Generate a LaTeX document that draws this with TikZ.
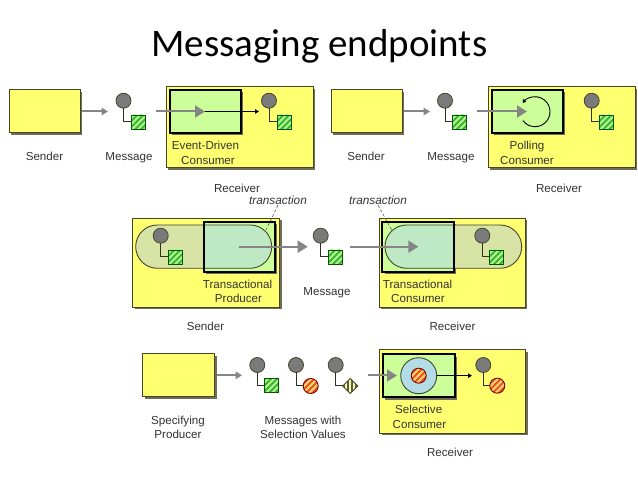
\documentclass[tikz,border=0pt]{standalone}
\usepackage{fontspec}
\setmainfont{Liberation Sans}
\newfontfamily\titlefont{Carlito}
\usetikzlibrary{arrows.meta,shapes.geometric,shadows,calc}
\definecolor{ybox}{HTML}{FFFF70}
\definecolor{gbox}{HTML}{CCFF99}
\definecolor{capY}{HTML}{D8E3A6}
\definecolor{capG}{HTML}{BFE8C4}
\definecolor{edge}{HTML}{45452C}
\definecolor{sh}{HTML}{6E6E5A}
\definecolor{txt}{HTML}{333333}
\definecolor{pipe}{HTML}{858585}
\definecolor{gball}{HTML}{7A7A7A}
\definecolor{sgreen}{HTML}{2FB52F}
\definecolor{slight}{HTML}{B4F08C}
\definecolor{sred}{HTML}{E5501E}
\definecolor{sorng}{HTML}{FFD070}
\definecolor{sblue}{HTML}{B2DCE6}
\tikzset{
  every node/.style={inner sep=0pt,outer sep=0pt},
  lbl/.style={font=\fontsize{11.6}{14}\selectfont,text=txt,anchor=base,yshift=-.8pt},
  ttl/.style={font=\titlefont\fontsize{39}{44}\selectfont,text=black,anchor=base},
  tr/.style={font=\itshape\fontsize{11.8}{13}\selectfont,text=txt,anchor=base},
  yb/.style={rectangle,draw=edge,line width=1pt,fill=ybox,
     general shadow={fill=sh,shadow xshift=2.2pt,shadow yshift=-2.2pt}},
  gb/.style={rectangle,draw=black,line width=1.8pt,
     general shadow={fill=sh,shadow xshift=2.4pt,shadow yshift=-2.4pt},fill=gbox},
  frameb/.style={rectangle,draw=black,line width=1.8pt},
  ball/.style={circle,draw=edge,line width=.8pt,fill=gball,minimum size=15pt},
  sqm/.style={rectangle,draw=black!65!green,line width=.9pt,minimum size=14pt,fill=sgreen,
    path picture={\foreach \i in {-16,-10,...,20}{\fill[slight]
      ($(path picture bounding box.center)+(\i pt,8pt)$) -- ++(3pt,0) -- ++(-16pt,-16pt) -- ++(-3pt,0) -- cycle;}}},
  rnd/.style={circle,draw=red!50!black,line width=.9pt,minimum size=15pt,fill=sred,
    path picture={\foreach \i in {-16,-10,...,20}{\fill[sorng]
      ($(path picture bounding box.center)+(\i pt,-8pt)$) -- ++(3pt,0) -- ++(16pt,16pt) -- ++(-3pt,0) -- cycle;}}},
  dia/.style={diamond,draw=edge,line width=.9pt,minimum size=15pt,fill=ybox!75!white,aspect=1,
    path picture={\foreach \i in {-6,-2,2,6}{\fill[black!65]
      ($(path picture bounding box.center)+(\i pt-.9pt,-8pt)$) rectangle ++(1.8pt,16pt);}}},
  link/.style={draw=edge!70!black,line width=1pt},
  pipeS/.style={draw=pipe,line width=2pt,-{Triangle[length=6.5pt,width=7.5pt]}},
  pipeL/.style={draw=pipe,line width=2pt,-{Triangle[length=10pt,width=12pt]}},
  blk/.style={draw=black,line width=.9pt,-{Triangle[length=4pt,width=4.5pt]}},
  lead/.style={draw=black!65,line width=.6pt,densely dashed},
}
% box: name, x1, y1, x2, y2, style
\newcommand{\bx}[6]{\pgfmathsetmacro{\wdt}{#4-#2}\pgfmathsetmacro{\hgt}{#5-#3}%
  \node[#6,minimum width=\wdt pt,minimum height=\hgt pt] (#1) at ({(#2+#4)/2},{(#3+#5)/2}) {};}
% message: name, ball x, ball y, payload x, payload y, payload style
\newcommand{\msgb}[6]{\node[ball] (#1c) at (#2,#3) {};
  \draw[link] (#1c.south) |- (#4,#5);
  \node[#6] (#1p) at (#4,#5) {};}
\begin{document}
\begin{tikzpicture}[x=1pt,y=-1pt]
\useasboundingbox (0,0) rectangle (638,478);
\fill[white] (0,0) rectangle (638,478);
\node[ttl] (title) at (319.5,57) {Messaging endpoints};

% Row 1 left
\bx{s1}{9}{90}{80}{133}{yb}
\msgb{m1}{123.5}{100.7}{138}{122}{sqm}
\bx{r1}{166}{87}{313}{168}{yb}
\bx{g1}{170}{90}{241}{133}{gb}
\msgb{m2}{269}{100.7}{284}{122}{sqm}
\coordinate (a1s) at (82,111.5); \coordinate (a1e) at (108,111.5);
\draw[pipeS] (a1s) -- (a1e);
\coordinate (a2s) at (156,111.5); \coordinate (a2e) at (205,111.5); \coordinate (a2b) at (259,111.5);
\draw[pipeL] (a2s) -- (a2e);
\draw[blk] (a2e) -- (a2b);
\node[lbl] (n1) at (44.5,160) {Sender};
\node[lbl] (n2) at (129,160) {Message};
\node[lbl] (n3) at (205.5,149) {Event-Driven};
\node[lbl] (n4) at (208,164) {Consumer};
\node[lbl] (n5) at (237,192) {Receiver};

% Row 1 right
\bx{s2}{331}{90}{402}{133}{yb}
\msgb{m3}{445}{100.7}{459.5}{122}{sqm}
\bx{r2}{488}{87}{635}{168}{yb}
\bx{g2}{492}{90}{563}{133}{gb}
\msgb{m4}{591.7}{100.7}{606}{122}{sqm}
\coordinate (a3s) at (404,111.5); \coordinate (a3e) at (430,111.5);
\draw[pipeS] (a3s) -- (a3e);
\coordinate (loop) at (535,111.7);
\draw[black,line width=.9pt,-{Triangle[length=3.5pt,width=4pt]}] (loop) ++(216:15pt) arc[start angle=216,end angle=505,radius=15pt];
\coordinate (a4s) at (477,111.5); \coordinate (a4e) at (527,111.5);
\draw[pipeL] (a4s) -- (a4e);
\node[lbl] (n6) at (366,160) {Sender};
\node[lbl] (n7) at (451,160) {Message};
\node[lbl] (n8) at (527,149) {Polling};
\node[lbl] (n9) at (527,164) {Consumer};
\node[lbl] (n10) at (559,192) {Receiver};

% Row 2 left
\bx{r3}{132.3}{218.3}{279.3}{307.3}{yb}
\bx{g3}{203.7}{221.7}{275}{271.7}{gb}
\path[fill=capY,rounded corners=21.6pt] (135.7,225) rectangle (271.7,268.3);
\begin{scope}
  \clip (203.7,221.7) rectangle (275,271.7);
  \path[fill=capG,rounded corners=21.6pt] (135.7,225) rectangle (271.7,268.3);
\end{scope}
\draw[edge,line width=.9pt,rounded corners=21.6pt] (135.7,225) rectangle (271.7,268.3);
\bx{f3}{203.7}{221.7}{275}{271.7}{frameb}
\msgb{m5}{160.7}{235.7}{175}{257}{sqm}
\coordinate (a5s) at (239.3,246.7); \coordinate (a5e) at (307.7,246.7);
\draw[pipeL] (a5s) -- (a5e);
\node[tr] (t1) at (278,205) {transaction};
\coordinate (t1e) at (266,230);
\draw[lead] (t1.south) -- (t1e);
\node[lbl] (n11) at (237.5,287.7) {Transactional};
\node[lbl] (n12) at (238.5,301.7) {Producer};
\node[lbl] (n13) at (205.5,330) {Sender};

% Row 2 centre message
\msgb{m6}{320.7}{235.7}{335.7}{257}{sqm}
\node[lbl] (n14) at (327,294.5) {Message};

% Row 2 right
\bx{r4}{379}{218.3}{525}{307.3}{yb}
\bx{g4}{382.3}{221.7}{454}{271.7}{gb}
\path[fill=capY,rounded corners=21.6pt] (385,225) rectangle (521.7,268.3);
\begin{scope}
  \clip (382.3,221.7) rectangle (454,271.7);
  \path[fill=capG,rounded corners=21.6pt] (385,225) rectangle (521.7,268.3);
\end{scope}
\draw[edge,line width=.9pt,rounded corners=21.6pt] (385,225) rectangle (521.7,268.3);
\bx{f4}{382.3}{221.7}{454}{271.7}{frameb}
\msgb{m7}{482.3}{235.7}{496.7}{257}{sqm}
\coordinate (a6s) at (350,246.7); \coordinate (a6e) at (418.3,246.7);
\draw[pipeL] (a6s) -- (a6e);
\node[tr] (t2) at (378,205) {transaction};
\coordinate (t2e) at (391.7,230);
\draw[lead] (t2.south) -- (t2e);
\node[lbl] (n15) at (417.5,287.7) {Transactional};
\node[lbl] (n16) at (418,301.7) {Consumer};
\node[lbl] (n17) at (452.5,330) {Receiver};

% Row 3
\bx{s3}{142.7}{354}{214.3}{396.7}{yb}
\coordinate (a7s) at (216.5,375.3); \coordinate (a7e) at (242,375.3);
\draw[pipeS] (a7s) -- (a7e);
\msgb{m8}{257.3}{365}{271.7}{385.7}{sqm}
\msgb{m9}{296}{365}{310.7}{386}{rnd}
\msgb{m10}{335.7}{365}{350.3}{386}{dia}
\bx{r5}{379.3}{350}{525.7}{433.3}{yb}
\bx{g5}{382.7}{354.3}{455}{397.3}{gb}
\node[circle,draw=edge,line width=.9pt,fill=sblue,minimum size=36pt] (sel) at (418.7,375.7) {};
\node[rnd] (selp) at (418.7,375.7) {};
\coordinate (a8s) at (368,375.5); \coordinate (a8e) at (397,375.5);
\draw[pipeL] (a8s) -- (a8e);
\coordinate (a8b) at (472,375.7);
\draw[blk] (sel.east) -- (a8b);
\msgb{m11}{483.3}{365}{497.3}{385.7}{rnd}
\node[lbl] (n18) at (178,424) {Specifying};
\node[lbl] (n19) at (178,437.7) {Producer};
\node[lbl] (n20) at (303,424) {Messages with};
\node[lbl] (n21) at (303,437.7) {Selection Values};
\node[lbl] (n22) at (418.7,412.7) {Selective};
\node[lbl] (n23) at (419.5,427.5) {Consumer};
\node[lbl] (n24) at (450,455.5) {Receiver};
\end{tikzpicture}
\end{document}
